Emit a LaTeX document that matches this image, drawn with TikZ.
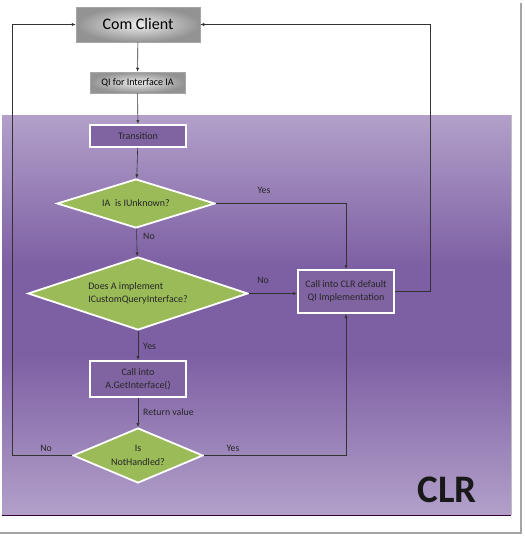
\documentclass[tikz,border=0pt]{standalone}
\usepackage{fontspec}
\setmainfont{Carlito}
\usetikzlibrary{shapes.geometric,arrows.meta}

\definecolor{clrpurple}{RGB}{128,100,162}
\definecolor{decgreen}{RGB}{155,187,89}
\definecolor{bglight}{RGB}{178,160,202}
\definecolor{bgdark}{RGB}{125,95,163}
\pgfdeclareverticalshading{clrbg}{100bp}{color(0bp)=(bglight); color(25bp)=(bglight);
  color(45bp)=(bgdark); color(56bp)=(bgdark); color(75bp)=(bglight); color(100bp)=(bglight)}

\tikzset{
  arr/.style={draw=black!80,line width=0.6pt,-{Latex[length=4pt,width=3.2pt]}},
  graybox/.style={rectangle,draw=gray!70,line width=0.5pt,inner sep=0pt,
    shading=radial,inner color=gray!15,outer color=gray!85},
  clrbox/.style={rectangle,draw=white,line width=2pt,fill=clrpurple,inner sep=0pt,
    align=center,text=black!85,font=\fontsize{10}{13}\selectfont},
  decision/.style={diamond,draw=white,line width=1.8pt,fill=decgreen,inner sep=0pt,
    text=black!85,font=\fontsize{10}{13.5}\selectfont},
  lbl/.style={text=black!85,font=\fontsize{9.8}{11}\selectfont,inner sep=0pt}
}

\begin{document}
\begin{tikzpicture}[x=1pt,y=-1pt]
\useasboundingbox (0,0) rectangle (525,536);
% page frame and CLR region
\fill[white] (0,0) rectangle (525,536);
\draw[gray!70,line width=2pt] (521,3) -- (521,533) -- (0,533);
\shade[shading=clrbg] (2,115) rectangle (511,515);
\draw[gray!50,line width=0.6pt] (511,115) -- (511,515);
\draw[black!60!violet,line width=0.8pt] (2,515) -- (511,515);
\node[font=\fontsize{39}{40}\selectfont\bfseries,text=black!90] (clrlabel) at (447,490) {CLR};

% nodes
\node[graybox,minimum width=124pt,minimum height=35pt,font=\fontsize{16}{18}\selectfont] (client) at (138,24.5) {Com Client};
\node[graybox,minimum width=95pt,minimum height=21pt,font=\fontsize{10}{12}\selectfont] (qi) at (137.5,82.5) {QI for Interface IA};
\node[clrbox,minimum width=96pt,minimum height=22pt] (trans) at (138,136) {Transition};
\node[decision,aspect=3.2,minimum width=158pt,minimum height=49pt] (d1) at (136,203.5) {IA\ \ is IUnknown?};
\node[decision,aspect=3,minimum width=220pt,minimum height=73pt,align=left] (d2) at (138,293.5) {Does A implement\\ICustomQueryInterface?};
\node[clrbox,minimum width=96pt,minimum height=36pt] (getif) at (138,379) {Call into\\A.GetInterface()};
\node[decision,aspect=2.4,minimum width=130pt,minimum height=55pt,align=center] (d3) at (138,455.5) {Is\\NotHandled?};
\node[clrbox,minimum width=96pt,minimum height=43pt] (default) at (346,291.5) {Call into CLR default\\QI Implementation};

\coordinate (rt) at (430,0);
\coordinate (lt) at (12,0);

% connectors
\draw[arr] (client) -- (qi);
\draw[arr] (qi) -- (trans);
\draw[arr] (trans) -- (d1);
\draw[arr] (d1) -- (d2);
\draw[arr] (d2) -- (getif);
\draw[arr] (getif) -- (d3);
\draw[arr] (d1.east) -| (default.north);
\draw[arr] (d2.east) -- (d2.east -| default.west);
\draw[arr] (d3.east) -| (default.south);
\draw[arr] (default.east) -| (rt |- client.east) -- (client.east);
\draw[arr] (d3.west) -- (lt |- d3.west) |- (client.west);

% labels
\node[lbl] (yes1) at (264,190) {Yes};
\node[lbl,anchor=west] (no1) at (143,236) {No};
\node[lbl] (no2) at (263,280) {No};
\node[lbl,anchor=west] (yes2) at (143,346) {Yes};
\node[lbl,anchor=west] (retval) at (143,412) {Return value};
\node[lbl] (no3) at (46,448) {No};
\node[lbl] (yes3) at (233,448) {Yes};
\end{tikzpicture}
\end{document}
